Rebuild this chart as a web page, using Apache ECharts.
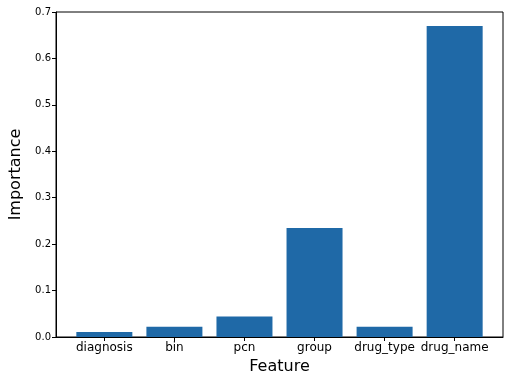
<!DOCTYPE html>
<html>
<head>
<meta charset="utf-8">
<script src="https://cdn.jsdelivr.net/npm/echarts@6/dist/echarts.min.js"></script>
<style>
html,body{margin:0;padding:0;background:#fff;}
#chart{width:518px;height:391px;}
</style>
</head>
<body>
<div id="chart"></div>
<script>
const categories = ["diagnosis", "bin", "pcn", "group", "drug_type", "drug_name"];
const importance = [0.011, 0.022, 0.044, 0.235, 0.022, 0.670];
const yTicks = [0, 0.1, 0.2, 0.3, 0.4, 0.5, 0.6, 0.7];

const positions = categories.map((c, i) => i);
const chart = echarts.init(document.getElementById('chart'), null, {renderer: 'canvas'});
const font = 'DejaVu Sans';
chart.setOption({
  animation: false,
  backgroundColor: '#fff',
  grid: {left: 56, right: 15, top: 12, bottom: 54, show: true, borderColor: '#000', borderWidth: 1, backgroundColor: 'transparent'},
  xAxis: {
    type: 'value', min: -0.69, max: 5.69,
    name: 'Feature', nameLocation: 'middle', nameGap: 22,
    nameTextStyle: {fontFamily: font, fontSize: 16, color: '#000'},
    axisLine: {show: true, onZero: false, lineStyle: {color: '#000', width: 1}},
    axisTick: {show: true, length: 4, lineStyle: {color: '#000'}, customValues: positions},
    axisLabel: {fontFamily: font, fontSize: 12, color: '#000', margin: 5, customValues: positions,
      formatter: v => categories[Math.round(v)] || ''},
    splitLine: {show: false}
  },
  yAxis: {
    type: 'value', min: yTicks[0], max: yTicks[yTicks.length - 1], interval: 0.1,
    name: 'Importance', nameLocation: 'middle', nameGap: 27,
    nameTextStyle: {fontFamily: font, fontSize: 16, color: '#000'},
    axisLine: {show: true, onZero: false, lineStyle: {color: '#000', width: 1}},
    axisTick: {show: true, length: 4, lineStyle: {color: '#000'}},
    axisLabel: {fontFamily: font, fontSize: 10, color: '#000', margin: 5, formatter: v => v.toFixed(1)},
    splitLine: {show: false}
  },
  series: [{
    type: 'bar',
    data: categories.map((c, i) => [i, importance[i]]),
    barWidth: 56,
    itemStyle: {color: '#1f69a7'}
  }]
});
</script>
</body>
</html>
